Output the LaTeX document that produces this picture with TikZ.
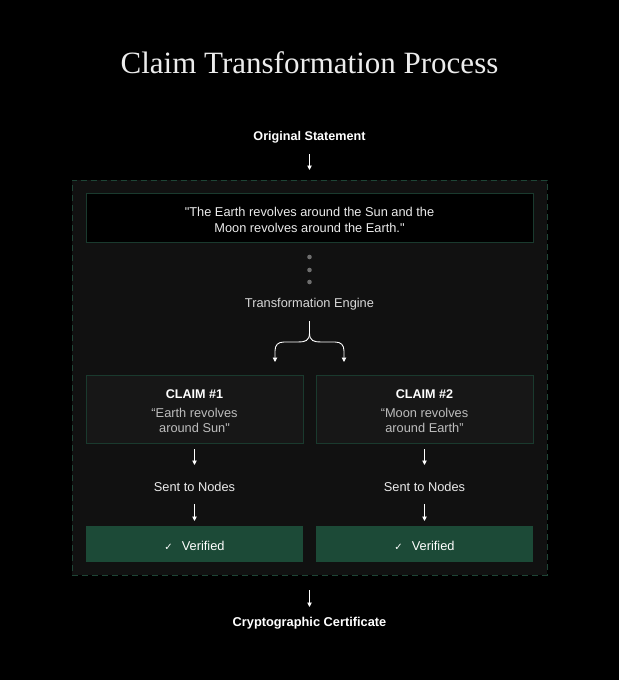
\documentclass[tikz,border=0pt]{standalone}
\usepackage{fontspec}
\setmainfont{Liberation Sans}
\newfontfamily\sansnl{Liberation Sans}
\newfontfamily\titlefont{Liberation Serif}
\newfontfamily\symfont{DejaVu Sans}
\usetikzlibrary{arrows.meta}
\definecolor{bgc}{HTML}{000000}
\definecolor{panel}{HTML}{111111}
\definecolor{dashgreen}{HTML}{1E4536}
\definecolor{boxborder}{HTML}{1A3A2E}
\definecolor{claimfill}{HTML}{171717}
\definecolor{verfill}{HTML}{1C4A37}
\definecolor{titlec}{HTML}{ECECEC}
\definecolor{soft}{HTML}{D8D8D8}
\definecolor{quotec}{HTML}{BDBDBD}
\definecolor{dotc}{HTML}{6E6E6E}
\tikzset{
  arr/.style={draw=white, line width=0.9pt, -{Triangle[width=4.5pt,length=4.5pt]}},
  lbl/.style={inner sep=0pt, text=white, font=\sansnl\fontsize{12.6}{14}\selectfont\bfseries},
  soft/.style={inner sep=0pt, text=soft, font=\sansnl\fontsize{12.8}{14}\selectfont},
  claimbox/.style={draw=boxborder, fill=claimfill, line width=0.8pt, minimum width=217pt, minimum height=68pt, inner sep=0pt},
  verbox/.style={fill=verfill, minimum width=217pt, minimum height=36pt, inner sep=0pt},
  vertext/.style={inner sep=0pt, text=white, font=\sansnl\fontsize{12.8}{14}\selectfont},
  quote/.style={inner sep=0pt, align=center, text=quotec, font=\sansnl\fontsize{12.8}{14.5}\selectfont},
}
\begin{document}
\begin{tikzpicture}[x=1pt,y=-1pt]
\useasboundingbox[fill=bgc] (0,0) rectangle (619,680);
\node[inner sep=0pt, text=titlec, font=\titlefont\fontsize{31}{36}\selectfont] (title) at (309.5,63) {Claim Transformation Process};
\node[lbl] (orig) at (309.5,137) {Original Statement};
\node[draw=dashgreen, fill=panel, dash pattern=on 6pt off 4pt, line width=0.8pt, minimum width=475pt, minimum height=395pt, inner sep=0pt] (outer) at (309.5,377.5) {};
\draw[arr] (orig |- 0,154) -- (orig |- 0,170);
\node[draw=boxborder, fill=black, line width=0.8pt, minimum width=447pt, minimum height=49pt, inner sep=0pt] (stmt) at (309.5,217.5) {};
\node[inner sep=0pt, align=center, text=white!92!black, font=\sansnl\fontsize{12.8}{15.5}\selectfont] (stmtt) at (309.5,220) {"The Earth revolves around the Sun and the\\Moon revolves around the Earth."};
\foreach \yy/\nm in {257/d1,270/d2,282/d3}
  \fill[dotc] (309.5,\yy) circle (2.3pt) coordinate (\nm);
\node[soft] (te) at (309.5,304.5) {Transformation Engine};
\coordinate (bl) at (275,362);
\coordinate (br) at (344,362);
\draw[arr] (te |- 0,321) -- (te |- 0,333) .. controls (te |- 0,341) and (305,342) .. (298,342) -- (284,342) .. controls (278,342) and (275,345) .. (275,351) -- (bl);
\draw[arr] (te |- 0,321) -- (te |- 0,333) .. controls (te |- 0,341) and (314,342) .. (321,342) -- (335,342) .. controls (341,342) and (344,345) .. (344,351) -- (br);
\node[claimbox] (c1) at (194.5,409) {};
\node[claimbox] (c2) at (424.5,409) {};
\node[lbl] (c1t) at (194.5,394) {CLAIM \#1};
\node[quote] (c1q) at (194.5,420.5) {“Earth revolves\\around Sun"};
\node[lbl] (c2t) at (424.5,394) {CLAIM \#2};
\node[quote] (c2q) at (424.5,420.5) {“Moon revolves\\around Earth”};
\node[soft, text=white!92!black] (s1) at (194.5,486.5) {Sent to Nodes};
\node[soft, text=white!92!black] (s2) at (424.5,486.5) {Sent to Nodes};
\draw[arr] (c1 |- 0,449) -- (c1 |- 0,465);
\draw[arr] (c2 |- 0,449) -- (c2 |- 0,465);
\draw[arr] (s1 |- 0,504) -- (s1 |- 0,521);
\draw[arr] (s2 |- 0,504) -- (s2 |- 0,521);
\node[verbox] (v1) at (194.5,544) {};
\node[verbox] (v2) at (424.5,544) {};
\node[vertext] (v1t) at (194.5,545.5) {{\symfont\fontsize{10}{10}\selectfont ✓}\hspace{9pt}Verified};
\node[vertext] (v2t) at (424.5,545.5) {{\symfont\fontsize{10}{10}\selectfont ✓}\hspace{9pt}Verified};
\node[lbl, font=\sansnl\fontsize{12.8}{14}\selectfont\bfseries] (cert) at (309.5,623) {Cryptographic Certificate};
\draw[arr] (cert |- 0,590) -- (cert |- 0,607);
\end{tikzpicture}
\end{document}
